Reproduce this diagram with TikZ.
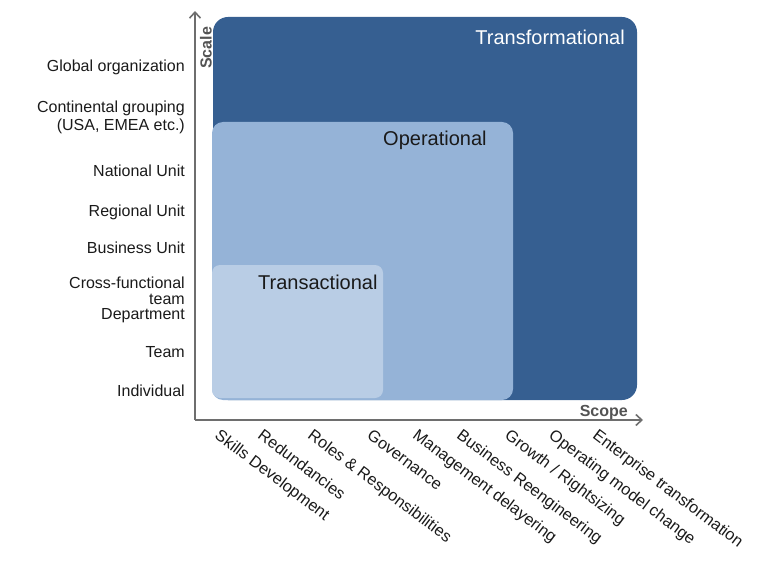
\documentclass[tikz,border=0pt]{standalone}
\usepackage{fontspec}
\setmainfont{Liberation Sans}
\usetikzlibrary{arrows.meta}
\definecolor{trf}{HTML}{365F91}
\definecolor{opc}{HTML}{95B3D7}
\definecolor{trc}{HTML}{B9CDE5}
\definecolor{axc}{HTML}{6E6E6E}
\definecolor{txc}{HTML}{1A1A1A}
\begin{document}
\begin{tikzpicture}[x=1pt,y=-1pt,
  ylab/.style={anchor=east,font=\fontsize{16}{16.5}\selectfont,text=txc,inner sep=0pt,text height=12pt,text depth=3.5pt},
  xlab/.style={anchor=north west,rotate=-37,font=\fontsize{16.3}{18}\selectfont,text=txc,inner sep=0pt},
  zone/.style={inner sep=0pt,font=\fontsize{20}{22}\selectfont},
  axis/.style={draw=axc,line width=2pt,-{Straight Barb[length=6pt,width=11pt,line width=1.6pt]}},
  axlab/.style={font=\bfseries\fontsize{16}{18}\selectfont,text=axc!75!black,inner sep=0pt}]
\useasboundingbox (0,0) rectangle (768,572);
% zones
\fill[trf,rounded corners=15pt] (213,17) rectangle (637,400);
\fill[opc,rounded corners=11pt] (212,122) rectangle (513,400);
\fill[trc,rounded corners=8pt] (212,265) rectangle (383,398);
\node[zone,text=white,anchor=east] (tf) at (625,37) {Transformational};
\node[zone,text=txc,anchor=west] (op) at (383,140) {Operational};
\node[zone,text=txc,anchor=west] (ta) at (258,282) {Transactional};
% axes
\coordinate (o) at (195,420);
\coordinate (ytop) at (195,11);
\coordinate (xend) at (643,420);
\draw[axis] (o) -- (ytop);
\draw[axis] (o) -- (xend);
\node[axlab,rotate=90] (scale) at (206,48) {Scale};
\node[axlab,anchor=east] (scope) at (628,413) {Scope};
% y labels
\node[ylab] (l1) at (185,67) {Global organization};
\node[ylab] (l2a) at (185,108) {Continental grouping};
\node[ylab] (l2b) at (185,126) {(USA, EMEA etc.)};
\node[ylab] (l3) at (185,172) {National Unit};
\node[ylab] (l4) at (185,212) {Regional Unit};
\node[ylab] (l5) at (185,249) {Business Unit};
\node[ylab] (l6a) at (185,284) {Cross-functional};
\node[ylab] (l6b) at (185,300) {team};
\node[ylab] (l7) at (185,315) {Department};
\node[ylab] (l8) at (185,353) {Team};
\node[ylab] (l9) at (185,392) {Individual};
% x labels
\node[xlab] (s1) at (221,428) {Skills Development};
\node[xlab] (s2) at (264,428) {Redundancies};
\node[xlab] (s3) at (314,428) {Roles \& Responsibilities};
\node[xlab] (s4) at (373,428) {Governance};
\node[xlab] (s5) at (419,428) {Management delayering};
\node[xlab] (s6) at (463,428) {Business Reengineering};
\node[xlab] (s7) at (511,428) {Growth / Rightsizing};
\node[xlab] (s8) at (555,428) {Operating model change};
\node[xlab] (s9) at (599,428) {Enterprise transformation};
\end{tikzpicture}
\end{document}
